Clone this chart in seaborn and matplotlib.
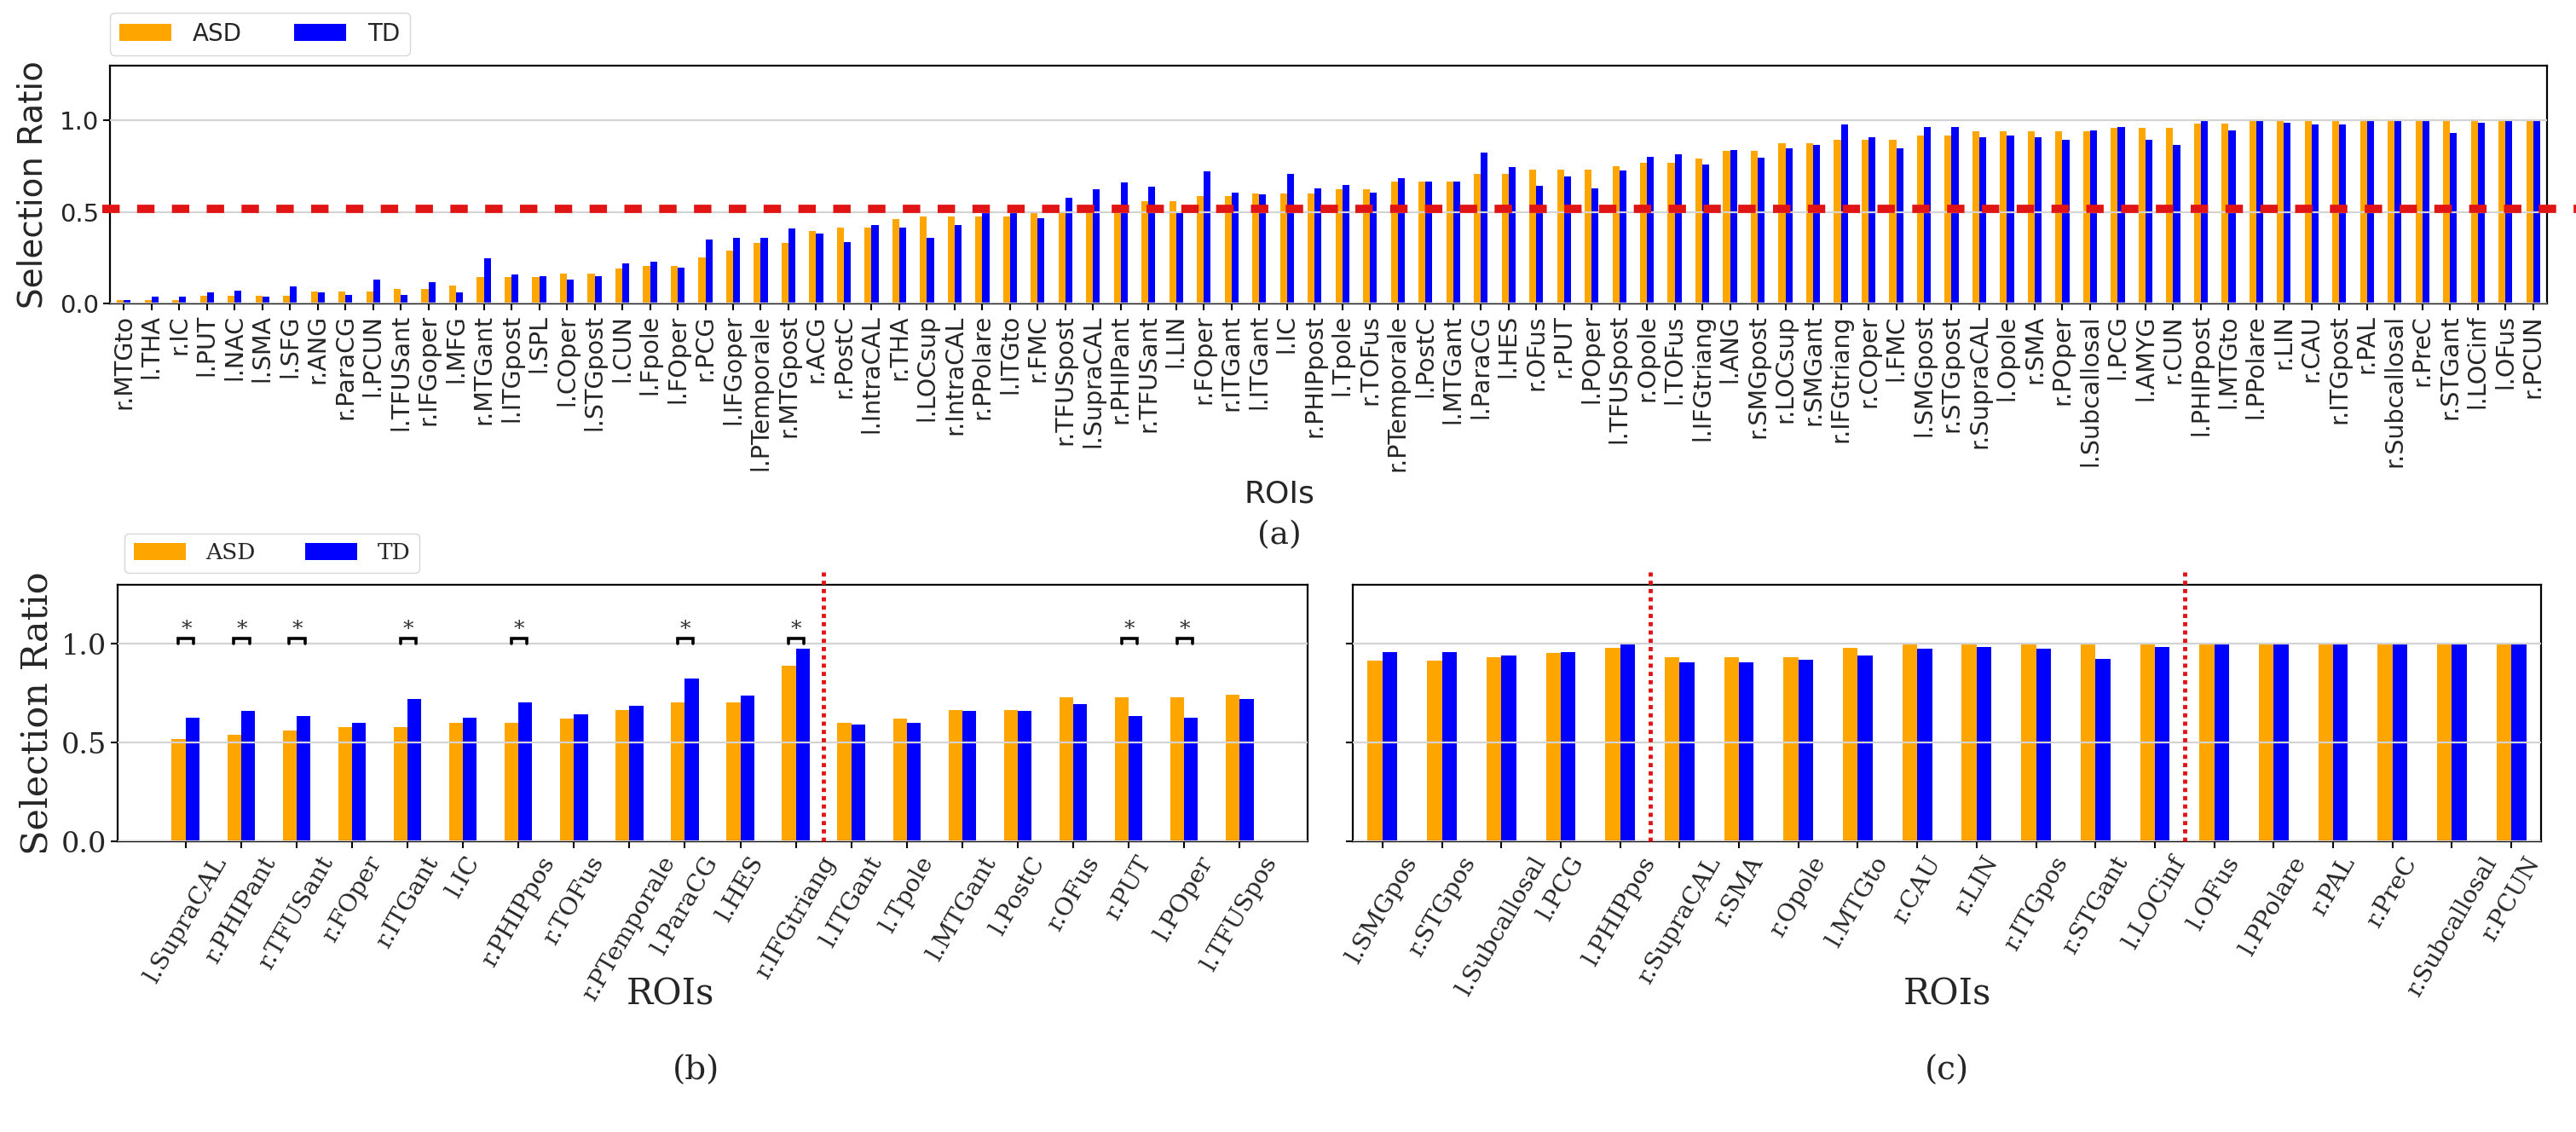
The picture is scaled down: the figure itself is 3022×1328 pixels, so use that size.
import matplotlib
matplotlib.use("Agg")
import matplotlib.pyplot as plt
import pandas as pd
import seaborn as sns

# ---- datos: panel (a), todas las ROIs ordenadas por ASD ----
rois_a = [
    "r.MTGto", "l.THA", "r.IC", "l.PUT", "l.NAC", "l.SMA", "l.SFG", "r.ANG",
    "r.ParaCG", "l.PCUN", "l.TFUSant", "r.IFGoper", "l.MFG", "r.MTGant",
    "l.ITGpost", "l.SPL", "l.COper", "l.STGpost", "l.CUN", "l.Fpole", "l.FOper",
    "r.PCG", "l.IFGoper", "l.PTemporale", "r.MTGpost", "r.ACG", "r.PostC",
    "l.IntraCAL", "r.THA", "l.LOCsup", "r.IntraCAL", "r.PPolare", "l.ITGto",
    "r.FMC", "r.TFUSpost", "l.SupraCAL", "r.PHIPant", "r.TFUSant", "l.LIN",
    "r.FOper", "r.ITGant", "l.ITGant", "l.IC", "r.PHIPpost", "l.Tpole",
    "r.TOFus", "r.PTemporale", "l.PostC", "l.MTGant", "l.ParaCG", "l.HES",
    "r.OFus", "r.PUT", "l.POper", "l.TFUSpost", "r.Opole", "l.TOFus",
    "l.IFGtriang", "l.ANG", "r.SMGpost", "r.LOCsup", "r.SMGant", "r.IFGtriang",
    "r.COper", "l.FMC", "l.SMGpost", "r.STGpost", "r.SupraCAL", "l.Opole",
    "r.SMA", "r.POper", "l.Subcallosal", "l.PCG", "l.AMYG", "r.CUN",
    "l.PHIPpost", "l.MTGto", "l.PPolare", "r.LIN", "r.CAU", "r.ITGpost",
    "r.PAL", "r.Subcallosal", "r.PreC", "r.STGant", "l.LOCinf", "l.OFus",
    "r.PCUN",
]
asd_a = [
    0.02, 0.02, 0.02, 0.04, 0.04, 0.04, 0.04, 0.065, 0.065, 0.065, 0.08, 0.08,
    0.10, 0.145, 0.145, 0.145, 0.165, 0.165, 0.19, 0.205, 0.205, 0.25, 0.29,
    0.33, 0.33, 0.395, 0.415, 0.415, 0.46, 0.475, 0.475, 0.475, 0.475, 0.50,
    0.50, 0.52, 0.54, 0.56, 0.56, 0.585, 0.585, 0.60, 0.60, 0.60, 0.625, 0.625,
    0.665, 0.665, 0.665, 0.71, 0.71, 0.73, 0.73, 0.73, 0.75, 0.77, 0.77, 0.79,
    0.835, 0.835, 0.875, 0.875, 0.895, 0.895, 0.895, 0.92, 0.92, 0.94, 0.94,
    0.94, 0.94, 0.94, 0.96, 0.96, 0.96, 0.985, 0.985, 1.0, 1.0, 1.0, 1.0, 1.0,
    1.0, 1.0, 1.0, 1.0, 1.0, 1.0,
]
td_a = [
    0.02, 0.035, 0.035, 0.06, 0.07, 0.035, 0.095, 0.06, 0.045, 0.13, 0.045,
    0.115, 0.06, 0.245, 0.16, 0.15, 0.13, 0.15, 0.22, 0.23, 0.195, 0.35, 0.36,
    0.36, 0.41, 0.38, 0.335, 0.43, 0.415, 0.36, 0.43, 0.50, 0.53, 0.465, 0.58,
    0.625, 0.66, 0.64, 0.50, 0.72, 0.605, 0.595, 0.71, 0.63, 0.65, 0.605,
    0.685, 0.665, 0.665, 0.825, 0.745, 0.645, 0.695, 0.63, 0.725, 0.80, 0.815,
    0.76, 0.84, 0.795, 0.85, 0.865, 0.98, 0.91, 0.85, 0.965, 0.965, 0.91,
    0.92, 0.91, 0.895, 0.945, 0.965, 0.895, 0.865, 1.0, 0.945, 1.0, 0.99,
    0.98, 0.98, 1.0, 1.0, 1.0, 0.93, 0.99, 1.0, 1.0,
]
umbral_a = 0.515

# ---- panel (b) ----
rois_b = [
    "l.SupraCAL", "r.PHIPant", "r.TFUSant", "r.FOper", "r.ITGant", "l.IC",
    "r.PHIPpos", "r.TOFus", "r.PTemporale", "l.ParaCG", "l.HES", "r.IFGtriang",
    "l.ITGant", "l.Tpole", "l.MTGant", "l.PostC", "r.OFus", "r.PUT", "l.POper",
    "l.TFUSpos",
]
asd_b = [0.52, 0.54, 0.56, 0.58, 0.58, 0.60, 0.60, 0.62, 0.665, 0.705, 0.705,
         0.89, 0.60, 0.62, 0.665, 0.665, 0.73, 0.73, 0.73, 0.745]
td_b = [0.625, 0.66, 0.635, 0.60, 0.72, 0.625, 0.705, 0.645, 0.685, 0.825,
        0.74, 0.975, 0.59, 0.60, 0.66, 0.66, 0.695, 0.635, 0.625, 0.72]
signif_b = ["l.SupraCAL", "r.PHIPant", "r.TFUSant", "r.ITGant", "r.PHIPpos",
            "l.ParaCG", "r.IFGtriang", "r.PUT", "l.POper"]
cortes_b = [11.5]

# ---- panel (c) ----
rois_c = [
    "l.SMGpos", "r.STGpos", "l.Subcallosal", "l.PCG", "l.PHIPpos", "r.SupraCAL",
    "r.SMA", "r.Opole", "l.MTGto", "r.CAU", "r.LIN", "r.ITGpos", "r.STGant",
    "l.LOCinf", "l.OFus", "l.PPolare", "r.PAL", "r.PreC", "r.Subcallosal",
    "r.PCUN",
]
asd_c = [0.915, 0.915, 0.935, 0.955, 0.98, 0.935, 0.935, 0.935, 0.98, 1.0,
         1.0, 1.0, 1.0, 1.0, 1.0, 1.0, 1.0, 1.0, 1.0, 1.0]
td_c = [0.96, 0.96, 0.94, 0.96, 1.0, 0.905, 0.905, 0.92, 0.94, 0.975, 0.985,
        0.975, 0.925, 0.985, 1.0, 1.0, 1.0, 1.0, 1.0, 1.0]
cortes_c = [4.5, 13.5]

PALETA = {"ASD": "orange", "TD": "blue"}
ROJO = "#e01414"
SANS = "DejaVu Sans"
SERIF = "DejaVu Serif"

W, H = 3022, 1328


def caja(x0, y0, x1, y1):
    """Convertir una caja en píxeles (arriba-izquierda) a fracción de figura."""
    return [x0 / W, 1 - y1 / H, (x1 - x0) / W, (y1 - y0) / H]


def dibujar_barras(ax, rois, asd, td, familia, tam_xt, tam_yt, rot):
    datos = pd.DataFrame({"ROI": rois, "ASD": asd, "TD": td}).melt(
        id_vars="ROI", var_name="Grupo", value_name="Selection Ratio"
    )
    sns.barplot(
        data=datos, x="ROI", y="Selection Ratio", hue="Grupo", order=rois,
        hue_order=["ASD", "TD"], palette=PALETA, width=0.5, saturation=1,
        errorbar=None, linewidth=0, ax=ax,
    )
    ax.set_ylim(0, 1.3)
    ax.set_yticks([0.0, 0.5, 1.0])
    ax.set_yticklabels(["0.0", "0.5", "1.0"])
    ax.yaxis.grid(True, color="#d3d3d3", linewidth=1.6)
    ax.set_axisbelow(False)
    for s in ax.spines.values():
        s.set_linewidth(1.6)
        s.set_color("black")
    ax.tick_params(axis="both", direction="out", length=6, width=1.5,
                   color="black")
    plt.setp(ax.get_xticklabels(), rotation=rot, fontsize=tam_xt,
             family=familia)
    plt.setp(ax.get_yticklabels(), fontsize=tam_yt, family=familia)


sns.set_style("ticks")
plt.rcParams["font.family"] = [SANS]

fig = plt.figure(figsize=(W / 100, H / 100), dpi=100)

# ---------------- (a) ----------------
ax_a = fig.add_axes(caja(129, 77, 2988, 356))
dibujar_barras(ax_a, rois_a, asd_a, td_a, SANS, 20.5, 21, 90)
ax_a.axhline(umbral_a, xmin=-0.003, xmax=1.012, color=ROJO, lw=7,
             linestyle=(0, (2.1, 2.1)), clip_on=False, zorder=4)
ax_a.set_ylabel("Selection Ratio", fontsize=28, family=SANS)
ax_a.yaxis.set_label_coords(-0.025, 0.5)
ax_a.set_xlabel("ROIs", fontsize=26, family=SANS)
ax_a.xaxis.set_label_coords(0.48, -0.80)
ax_a.xaxis.label.set_va("center")
sns.move_legend(
    ax_a, "lower left", bbox_to_anchor=(0, 1.043), borderaxespad=0, ncol=2,
    title=None, frameon=True, fontsize=20, handlelength=2.2,
    handleheight=0.75, columnspacing=2.2, handletextpad=0.9,
)

# ---------------- (b) ----------------
ax_b = fig.add_axes(caja(138, 686, 1534, 987))
dibujar_barras(ax_b, rois_b, asd_b, td_b, SERIF, 20.5, 24, 60)
ax_b.set_ylabel("Selection Ratio", fontsize=31, family=SERIF)
ax_b.yaxis.set_label_coords(-0.053, 0.5)
ax_b.set_xlabel("ROIs", fontsize=30, family=SERIF)
ax_b.xaxis.set_label_coords((786 - 138) / 1396, -0.595)
ax_b.xaxis.label.set_va("center")
for x in cortes_b:
    ax_b.axvline(x, ymin=0, ymax=1.06, color=ROJO, lw=3.5,
                 linestyle=(0, (1.0, 1.0)), clip_on=False, zorder=4)
for roi in signif_b:
    i = rois_b.index(roi)
    ax_b.plot([i - 0.13, i - 0.13, i + 0.15, i + 0.15],
              [1.004, 1.03, 1.03, 1.004], color="black", lw=2.6,
              solid_joinstyle="miter", zorder=5)
    ax_b.text(i + 0.01, 1.025, "*", ha="center", va="bottom", fontsize=18,
              family=SERIF, color="#333333")
sns.move_legend(
    ax_b, "lower left", bbox_to_anchor=(0.006, 1.047), borderaxespad=0,
    ncol=2, title=None, frameon=True, prop={"family": SERIF, "size": 19},
    handlelength=2.3, handleheight=0.75, columnspacing=2.2, handletextpad=0.9,
)

# ---------------- (c) ----------------
ax_c = fig.add_axes(caja(1587, 686, 2981, 987))
dibujar_barras(ax_c, rois_c, asd_c, td_c, SERIF, 20.5, 24, 60)
ax_c.tick_params(labelleft=False)
ax_c.set_ylabel("")
ax_c.set_xlabel("ROIs", fontsize=30, family=SERIF)
ax_c.xaxis.set_label_coords(0.5, -0.595)
ax_c.xaxis.label.set_va("center")
for x in cortes_c:
    ax_c.axvline(x, ymin=0, ymax=1.06, color=ROJO, lw=3.5,
                 linestyle=(0, (1.0, 1.0)), clip_on=False, zorder=4)
ax_c.get_legend().remove()

# etiquetas de subfigura
fig.text(1501 / W, 1 - 628 / H, "(a)", ha="center", va="center",
         fontsize=27, family=SERIF)
fig.text(817 / W, 1 - 1256 / H, "(b)", ha="center", va="center",
         fontsize=28, family=SERIF)
fig.text(2284 / W, 1 - 1256 / H, "(c)", ha="center", va="center",
         fontsize=28, family=SERIF)

fig.savefig("out.png", dpi=100)
